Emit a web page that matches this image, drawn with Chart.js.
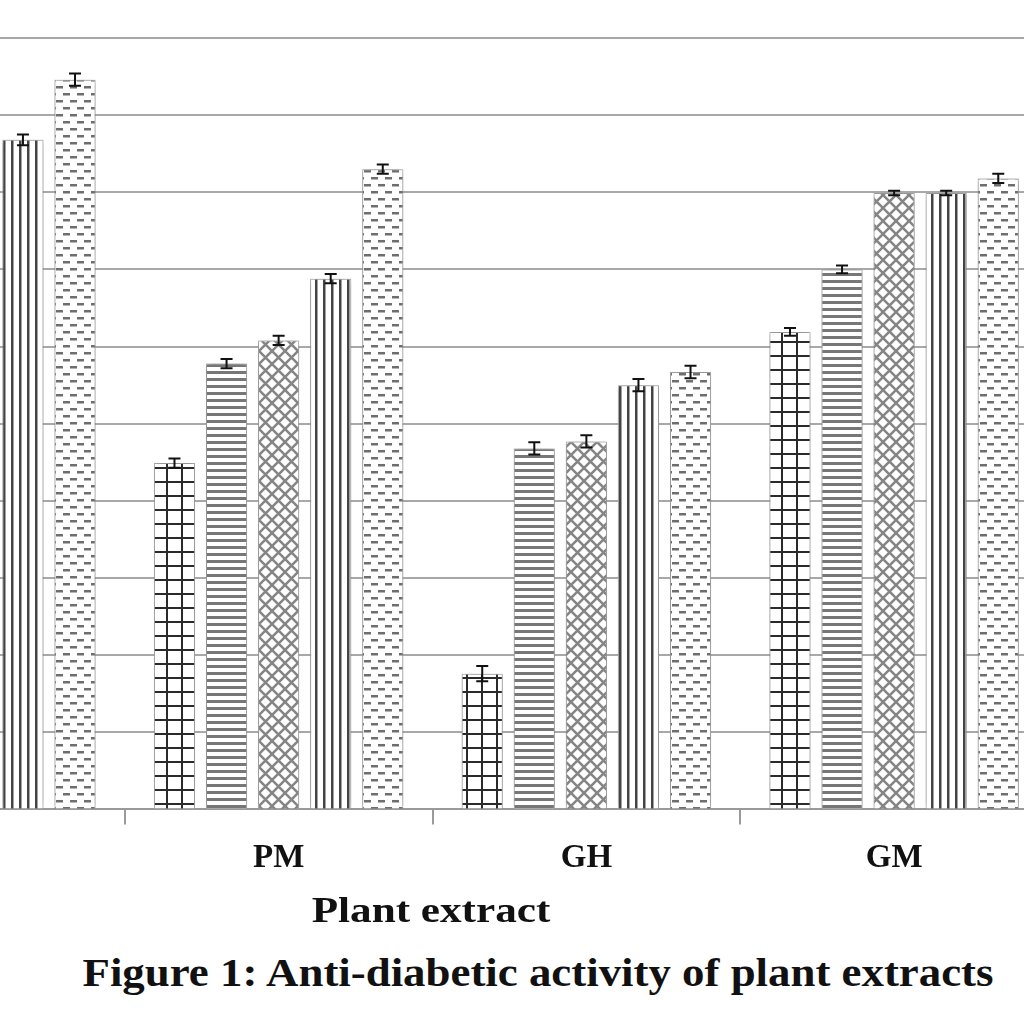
<!DOCTYPE html>
<html>
<head>
<meta charset="utf-8">
<script src="https://cdn.jsdelivr.net/npm/chart.js@4.4.1/dist/chart.umd.min.js"></script>
<style>
  html, body { margin: 0; padding: 0; background: #fff; }
  body { width: 1024px; height: 1024px; overflow: hidden; position: relative; }
  #wrap { position: absolute; left: -183px; top: 0; }
  .txt { position: absolute; white-space: nowrap; font-family: "Liberation Serif", "Times New Roman", serif;
         font-weight: bold; color: #111; line-height: 1; }
  #xtitle { left: 431px; top: 892px; font-size: 36px; transform: translateX(-50%) scaleX(1.2); }
  #caption { left: 538px; top: 953px; font-size: 39px; transform: translateX(-50%) scaleX(1.15); }
</style>
</head>
<body>
<div id="wrap"><canvas id="chart" width="1231" height="892"></canvas></div>
<div class="txt" id="xtitle">Plant extract</div>
<div class="txt" id="caption">Figure 1: Anti-diabetic activity of plant extracts</div>
<script>
// plant extracts (first group is cut off at the left edge in the figure)
const categories = ["PH", "PM", "GH", "GM"];

// five bar series per extract, one fill pattern each
const seriesNames = ["S1", "S2", "S3", "S4", "S5"];
const s1 = [70.0, 44.9, 17.6, 61.9];
const s2 = [77.0, 57.8, 46.8, 70.0];
const s3 = [81.0, 60.8, 47.7, 79.9];
const s4 = [86.8, 68.8, 55.0, 79.9];
const s5 = [94.6, 83.0, 56.7, 81.8];

// error bar half-widths
const e1 = [1.0, 0.6, 1.0, 0.5];
const e2 = [1.0, 0.6, 0.8, 0.5];
const e3 = [1.0, 0.6, 0.8, 0.3];
const e4 = [0.7, 0.6, 0.8, 0.3];
const e5 = [0.8, 0.6, 0.8, 0.6];

const yMin = 0, yMax = 100, yStep = 10;

function makePattern(w, h, draw) {
  const c = document.createElement("canvas");
  c.width = w; c.height = h;
  const g = c.getContext("2d");
  g.fillStyle = "#fff";
  g.fillRect(0, 0, w, h);
  draw(g);
  return document.getElementById("chart").getContext("2d").createPattern(c, "repeat");
}

const patGrid = makePattern(15, 14, g => {
  g.fillStyle = "#2a2a2a";
  g.fillRect(4, 0, 2, 14);
  g.fillRect(0, 5, 15, 2);
});
const patHoriz = makePattern(8, 7, g => {
  g.fillStyle = "#777";
  g.fillRect(0, 0, 8, 3);
});
const patCross = makePattern(13, 13, g => {
  g.strokeStyle = "#858585";
  g.lineWidth = 2.5;
  g.beginPath();
  g.moveTo(-1, -1); g.lineTo(14, 14);
  g.moveTo(14, -1); g.lineTo(-1, 14);
  g.stroke();
});
const patVert = makePattern(8, 8, g => {
  g.fillStyle = "#444";
  g.fillRect(2, 0, 2.5, 8);
});
const patDots = makePattern(14, 14, g => {
  g.fillStyle = "#6e6e6e";
  g.fillRect(1, 2, 7, 2.5);
  g.fillRect(8, 9, 7, 2.5);
  g.fillRect(-6, 9, 7, 2.5);
});

const values = [s1, s2, s3, s4, s5];
const errors = [e1, e2, e3, e4, e5];
const fills = [patGrid, patHoriz, patCross, patVert, patDots];

const errorBars = {
  id: "errorBars",
  afterDatasetsDraw(chart) {
    const ctx = chart.ctx;
    const y = chart.scales.y;
    ctx.save();
    ctx.strokeStyle = "#111";
    ctx.lineWidth = 2;
    chart.data.datasets.forEach((ds, di) => {
      chart.getDatasetMeta(di).data.forEach((bar, i) => {
        const v = ds.data[i], e = errors[di][i];
        const yt = y.getPixelForValue(v + e), yb = y.getPixelForValue(v - e);
        ctx.beginPath();
        ctx.moveTo(bar.x, yt); ctx.lineTo(bar.x, yb);
        ctx.moveTo(bar.x - 6, yt); ctx.lineTo(bar.x + 6, yt);
        ctx.moveTo(bar.x - 6, yb); ctx.lineTo(bar.x + 6, yb);
        ctx.stroke();
      });
    });
    ctx.restore();
  }
};

const barShadow = {
  id: "barShadow",
  beforeDatasetsDraw(chart) {
    const ctx = chart.ctx;
    ctx.save();
    ctx.shadowColor = "rgba(0,0,0,0.4)";
    ctx.shadowBlur = 8;
  },
  afterDatasetsDraw(chart) {
    chart.ctx.restore();
  }
};

new Chart(document.getElementById("chart"), {
  type: "bar",
  data: {
    labels: categories,
    datasets: seriesNames.map((name, i) => ({
      label: name,
      data: values[i],
      backgroundColor: fills[i],
      borderColor: "#b5b5b5",
      borderWidth: 1,
      categoryPercentage: 0.846,
      barPercentage: 0.79
    }))
  },
  options: {
    responsive: false,
    animation: false,
    layout: { padding: { top: 38, left: 0, right: 0, bottom: 0 } },
    plugins: { legend: { display: false }, tooltip: { enabled: false } },
    scales: {
      x: {
        grid: { drawOnChartArea: false, color: "#9a9a9a", lineWidth: 2, tickLength: 15 },
        border: { color: "#9a9a9a", width: 2 },
        ticks: {
          color: "#111", padding: 14,
          font: { family: "Liberation Serif", weight: "bold", size: 33 }
        }
      },
      y: {
        min: yMin, max: yMax,
        ticks: { display: false, stepSize: yStep },
        grid: { color: "#a8a8a8", lineWidth: 2, drawTicks: false },
        border: { display: false }
      }
    }
  },
  plugins: [barShadow, errorBars]
});
</script>
</body>
</html>
